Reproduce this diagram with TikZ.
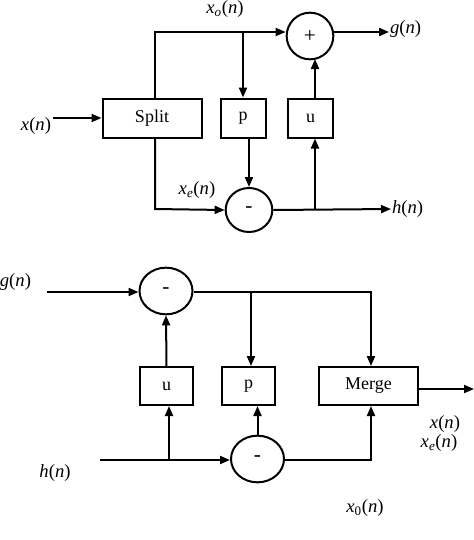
\documentclass[tikz,border=0pt]{standalone}
\usepackage{fontspec}
\setmainfont{Liberation Serif}
\usetikzlibrary{arrows.meta,shapes.geometric}
\begin{document}
\begin{tikzpicture}[x=0.75pt,y=-0.75pt,line width=1.5pt,
  blk/.style={draw,rectangle,inner sep=0pt,font=\fontsize{13.5}{15}\selectfont},
  opnode/.style={draw,ellipse,inner sep=0pt,font=\fontsize{16}{17}\selectfont},
  lbl/.style={inner sep=0pt,font=\fontsize{14}{16}\selectfont},
  arr/.style={-{Triangle[length=7.5pt,width=6pt]}}]
\useasboundingbox (0,0) rectangle (474,540);
% ---------- top: analysis ----------
\node[blk,minimum width=74.25pt,minimum height=29.25pt] (split) at (152,118) {Split};
\node[blk,minimum width=33.75pt,minimum height=29.25pt] (p1) at (243,118) {p};
\node[blk,minimum width=33.75pt,minimum height=29.25pt] (u1) at (310.5,118) {u};
\node[opnode,minimum width=35pt,minimum height=35pt] (plus) at (310,36) {+};
\node[opnode,minimum width=35pt,minimum height=33pt] (minus1) at (249,210) {-};
\node[lbl] (xin) at (36,126) {\textit{x}(\textit{n})};
\node[lbl] (xo) at (225,9) {\textit{x}\textsubscript{\textit{o}}(\textit{n})};
\node[lbl] (xe) at (197,190) {\textit{x}\textsubscript{\textit{e}}(\textit{n})};
\node[lbl,anchor=west] (gout) at (389,29) {\textit{g}(\textit{n})};
\node[lbl,anchor=west] (hout) at (391,209) {\textit{h}(\textit{n})};
\coordinate (xst) at (53,118);
\coordinate (stop) at (155,32);
\coordinate (sbot) at (155,209);
\coordinate (ub) at (315,209);
\draw[arr] (xst) -- (split.west);
\draw[arr] (split.north -| stop) -- (stop) -- (plus.west |- stop);
\draw[arr] (p1.north |- stop) -- (p1.north);
\draw[arr] (p1.south -| minus1.north) -- (minus1.north);
\draw[arr] (split.south -| sbot) -- (sbot) -- (minus1.west);
\draw[arr] (minus1.east) -- (hout.west);
\draw[arr] (ub) -- (u1.south -| ub);
\draw[arr] (u1.north -| ub) -- (315,59);
\draw[arr] (plus.east |- stop) -- (gout.west |- stop);
% ---------- bottom: synthesis ----------
\node[opnode,minimum width=39.75pt,minimum height=35pt] (m2) at (166,291) {-};
\node[opnode,minimum width=39.75pt,minimum height=35pt] (m3) at (257.5,459) {-};
\node[blk,minimum width=39.75pt,minimum height=28.5pt] (u2) at (166.5,386) {u};
\node[blk,minimum width=39.75pt,minimum height=28.5pt] (p2) at (248.5,386) {p};
\node[blk,minimum width=74.25pt,minimum height=28.5pt] (merge) at (368.5,386) {Merge};
\node[lbl,anchor=east] (gin) at (32,282) {\textit{g}(\textit{n})};
\node[lbl] (hin) at (55,473) {\textit{h}(\textit{n})};
\node[lbl] (xr) at (445,424) {\textit{x}(\textit{n})};
\node[lbl] (xer) at (439,443) {\textit{x}\textsubscript{\textit{e}}(\textit{n})};
\node[lbl] (x0r) at (365,508) {\textit{x}\textsubscript{0}(\textit{n})};
\coordinate (gst) at (47,292);
\coordinate (mtop) at (371,292);
\coordinate (pbr) at (251,292);
\coordinate (hst) at (100,460);
\coordinate (hbr) at (169,460);
\coordinate (mbot) at (371,460);
\coordinate (outend) at (474,389);
\draw[arr] (gst) -- (m2.west |- gst);
\draw[arr] (m2.east |- gst) -- (mtop) -- (merge.north -| mtop);
\draw[arr] (pbr) -- (p2.north -| pbr);
\draw[arr] (u2.north) -- (m2.south);
\draw[arr] (hst) -- (m3.west |- hst);
\draw[arr] (hbr) -- (u2.south -| hbr);
\draw[arr] (m3.north) -- (p2.south -| m3.north);
\draw[arr] (m3.east |- hst) -- (mbot) -- (merge.south -| mbot);
\draw[arr] (merge.east |- outend) -- (outend);
\end{tikzpicture}
\end{document}
